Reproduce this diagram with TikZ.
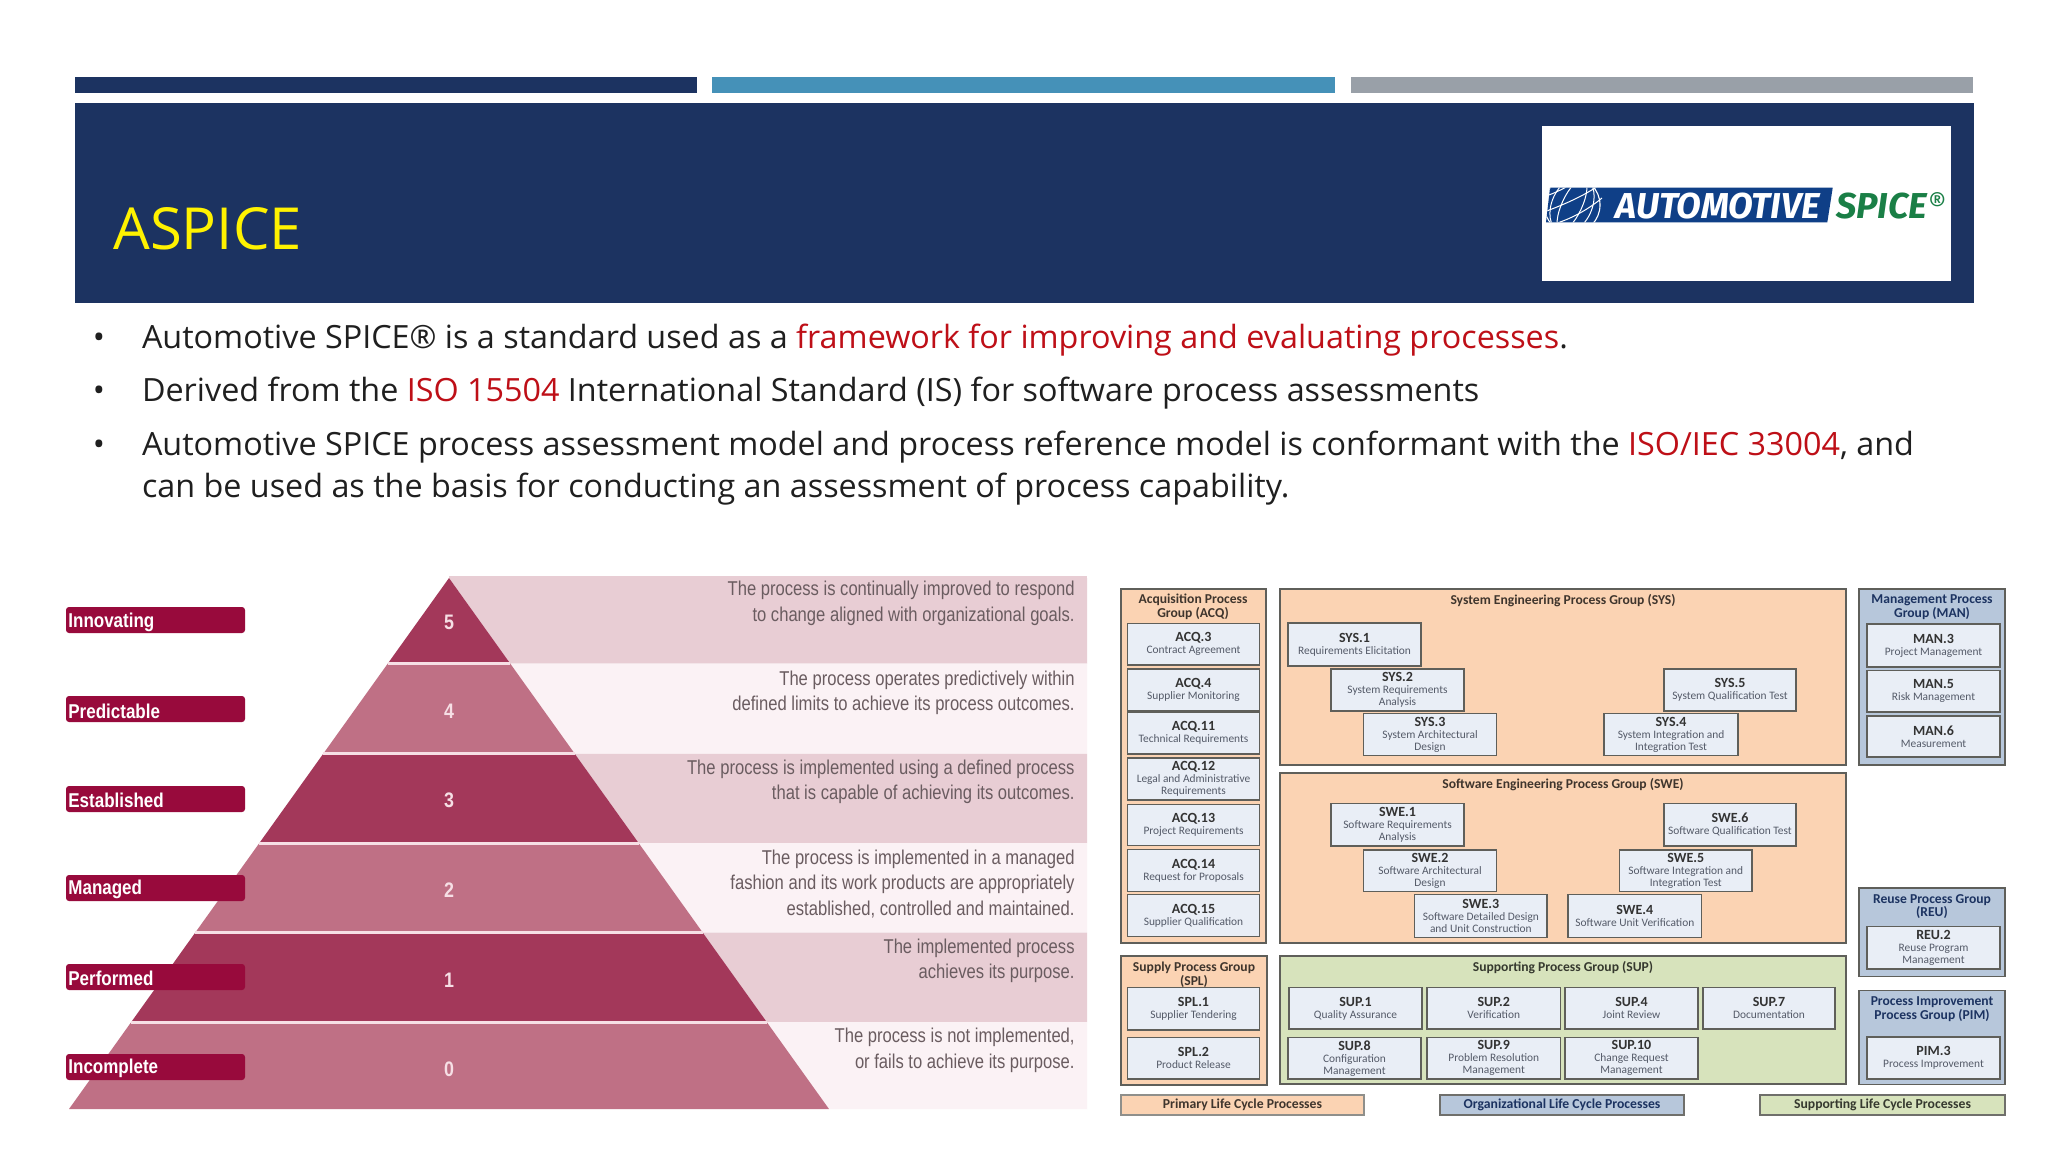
\documentclass[tikz,border=0pt]{standalone}
\usepackage{fontspec}
\setmainfont{Open Sans}
\newfontfamily\bodyf[FakeStretch=1.01]{Open Sans}
\newfontfamily\condf[FakeStretch=0.83]{Liberation Sans}
\newfontfamily\condbf[FakeStretch=0.85]{Liberation Sans}
\newfontfamily\carl{Carlito}
\newfontfamily\logof{Fira Sans}
\definecolor{navy}{HTML}{1C3361}
\definecolor{barblue}{HTML}{4591B8}
\definecolor{bargrey}{HTML}{99A0A8}
\definecolor{redtxt}{HTML}{BE0F17}
\definecolor{pdark}{HTML}{A3385A}
\definecolor{plight}{HTML}{BF7085}
\definecolor{bandA}{HTML}{E8CDD4}
\definecolor{bandB}{HTML}{FBF2F5}
\definecolor{gapc}{HTML}{F6DFE5}
\definecolor{labelc}{HTML}{980A3C}
\definecolor{desc}{HTML}{6A5C60}
\definecolor{orangeg}{HTML}{FBD3B3}
\definecolor{greeng}{HTML}{D7E3BC}
\definecolor{blueg}{HTML}{B7C7DB}
\definecolor{boxf}{HTML}{E9EEF6}
\definecolor{edgec}{HTML}{5F5F5A}
\definecolor{subc}{HTML}{545A68}
\definecolor{logoblue}{HTML}{0F3F87}
\definecolor{logogreen}{HTML}{1A7F46}
\tikzset{
  x=0.5pt,y=-0.5pt,
  bodytext/.style={anchor=base west,inner sep=0pt,outer sep=0pt,font=\bodyf\fontsize{16}{19}\selectfont,text=black!88},
  bulletmark/.style={anchor=base,inner sep=0pt,font=\bodyf\fontsize{16}{19}\selectfont,text=black!88},
  levelbox/.style={fill=labelc,rounded corners=1.5pt,inner sep=0pt,draw=none},
  leveltext/.style={anchor=west,inner sep=0pt,text=white,font=\condbf\bfseries\fontsize{10}{10}\selectfont},
  digit/.style={inner sep=0pt,text=gapc,font=\condbf\bfseries\fontsize{10.5}{10.5}\selectfont},
  desctext/.style={anchor=east,inner sep=0pt,text=desc,font=\condf\fontsize{10}{10}\selectfont},
  grpbox/.style={draw=edgec,line width=0.7pt,inner sep=0pt,outer sep=0pt},
  procbox/.style={draw=edgec,line width=0.75pt,fill=boxf,inner sep=0pt,outer sep=0pt,align=center,text=subc,font=\carl\fontsize{5.7}{6}\selectfont},
  grptitle/.style={inner sep=0pt,align=center,font=\carl\bfseries\fontsize{6.8}{6.9}\selectfont},
  legendtext/.style={inner sep=0pt,font=\carl\bfseries\fontsize{6.85}{7}\selectfont},
}
\newcommand{\nm}[1]{{\bfseries\fontsize{7}{6}\selectfont\color{black!80}#1}}
% name x1 y1 x2 y2 style text
\newcommand{\rectnode}[7]{%
  \pgfmathsetmacro\rw{(#4-#2)*0.5}\pgfmathsetmacro\rh{(#5-#3)*0.5}%
  \pgfmathsetmacro\rx{(#2+#4)/2}\pgfmathsetmacro\ry{(#3+#5)/2}%
  \node[#6,minimum width=\rw pt,minimum height=\rh pt] (#1) at (\rx,\ry) {#7};}
\newcommand{\pbox}[7]{\rectnode{#1}{#2}{#3}{#4}{#5}{procbox}{\nm{#6}\\#7}}
% ytop ybot layer colour band colour
\newcommand{\layer}[4]{%
  \pgfmathsetmacro\ta{0.7156*(#1-578)}\pgfmathsetmacro\tb{0.7156*(#2-578)}%
  \fill[#4] (449+\ta,#1) -- (1087,#1) -- (1087,#2) -- (449+\tb,#2) -- cycle;
  \fill[#3] (449-\ta,#1) -- (449+\ta,#1) -- (449+\tb,#2) -- (449-\tb,#2) -- cycle;}
\newcommand{\gapline}[1]{%
  \pgfmathsetmacro\ta{0.7156*(#1-578)}%
  \draw[gapc,line width=1.5pt] (449-\ta,#1) -- (449+\ta,#1);}
\begin{document}
\begin{tikzpicture}
\useasboundingbox (0,0) rectangle (2048,1152);
\fill[white] (0,0) rectangle (2048,1152);
% top bars
\fill[navy] (74.5,77) rectangle (697,93);
\fill[barblue] (712,77) rectangle (1335,93);
\fill[bargrey] (1351,77) rectangle (1973,93);
% header
\fill[navy] (74.5,103) rectangle (1973.5,303);
\node[anchor=base west,inner sep=0pt,text=yellow,font=\fontsize{29}{30}\selectfont] (title) at (113,249) {ASPICE};
% logo
\fill[white] (1542,126) rectangle (1951,281);
\fill[logoblue] (1550,187.7) -- (1832.7,187.7) -- (1827.3,222.3) -- (1546,222.3) -- cycle;
\begin{scope}
\clip (1550,187.7) -- (1832.7,187.7) -- (1827.3,222.3) -- (1546,222.3) -- cycle;
\draw[white,line width=0.55pt] (1572,205) circle[radius=28];
\draw[white,line width=0.5pt] (1572,205) ellipse[x radius=10,y radius=28,rotate=-25];
\draw[white,line width=0.5pt] (1572,205) ellipse[x radius=20,y radius=30,rotate=-25];
\draw[white,line width=0.5pt] (1544,212) .. controls (1560,206) and (1580,198) .. (1598,186);
\draw[white,line width=0.5pt] (1546,226) .. controls (1565,222) and (1585,212) .. (1602,198);
\draw[white,line width=0.5pt] (1546,196) .. controls (1555,193) and (1565,188) .. (1575,182);
\end{scope}
\node[anchor=base west,inner sep=0pt,text=white,font=\logof\bfseries\itshape\fontsize{18}{18}\selectfont] (auto) at (1615,218.5) {AUTOMOTIVE};
\node[anchor=base west,inner sep=0pt,text=logogreen,font=\logof\bfseries\itshape\fontsize{18}{18}\selectfont] (spice) at (1836,218.5) {SPICE};
\node[anchor=base west,inner sep=0pt,text=logogreen,font=\logof\fontsize{14}{14}\selectfont] (reg) at (1928,213) {®};
% bullets
\node[bulletmark] (b1) at (99,348) {•};
\node[bulletmark] (b2) at (99,401) {•};
\node[bulletmark] (b3) at (99,455) {•};
\node[bodytext] (l1) at (142,348) {Automotive SPICE® is a standard used as a \textcolor{redtxt}{framework for improving and evaluating processes}.};
\node[bodytext] (l2) at (142,401) {Derived from the \textcolor{redtxt}{ISO 15504} International Standard (IS) for software process assessments};
\node[bodytext] (l3) at (142,455) {Automotive SPICE process assessment model and process reference model is conformant with the \textcolor{redtxt}{ISO/IEC 33004}, and};
\node[bodytext] (l4) at (142,497) {can be used as the basis for conducting an assessment of process capability.};
% pyramid
\layer{578}{663.6}{pdark}{bandA}
\layer{663.6}{753.8}{plight}{bandB}
\layer{753.8}{843}{pdark}{bandA}
\layer{843}{932.7}{plight}{bandB}
\layer{932.7}{1022}{pdark}{bandA}
\layer{1022}{1109}{plight}{bandB}
\fill[bandA] (449,576) -- (1087,576) -- (1087,578) -- (449,578) -- cycle;
\gapline{663.6}\gapline{753.8}\gapline{843}\gapline{932.7}\gapline{1022}
\node[digit] (n5) at (449,622) {5};
\node[digit] (n4) at (449,711) {4};
\node[digit] (n3) at (449,800) {3};
\node[digit] (n2) at (449,890) {2};
\node[digit] (n1) at (449,980) {1};
\node[digit] (n0) at (449,1069) {0};
\rectnode{lv5}{66}{607}{245}{633}{levelbox}{}
\rectnode{lv4}{66}{696}{245}{722}{levelbox}{}
\rectnode{lv3}{66}{786}{245}{812}{levelbox}{}
\rectnode{lv2}{66}{875}{245}{901}{levelbox}{}
\rectnode{lv1}{66}{964}{245}{990}{levelbox}{}
\rectnode{lv0}{66}{1054}{245}{1080}{levelbox}{}
\node[leveltext] (tx5) at (68,622) {Innovating};
\node[leveltext] (tx4) at (68,711) {Predictable};
\node[leveltext] (tx3) at (68,800) {Established};
\node[leveltext] (tx2) at (68,889) {Managed};
\node[leveltext] (tx1) at (68,978) {Performed};
\node[leveltext] (tx0) at (68,1068) {Incomplete};
\node[desctext] (d5a) at (1075,590) {The process is continually improved to respond};
\node[desctext] (d5b) at (1075,616) {to change aligned with organizational goals.};
\node[desctext] (d4a) at (1075,680) {The process operates predictively within};
\node[desctext] (d4b) at (1075,705) {defined limits to achieve its process outcomes.};
\node[desctext] (d3a) at (1075,769) {The process is implemented using a defined process};
\node[desctext] (d3b) at (1075,794) {that is capable of achieving its outcomes.};
\node[desctext] (d2a) at (1075,859) {The process is implemented in a managed};
\node[desctext] (d2b) at (1075,884) {fashion and its work products are appropriately};
\node[desctext] (d2c) at (1075,910) {established, controlled and maintained.};
\node[desctext] (d1a) at (1075,948) {The implemented process};
\node[desctext] (d1b) at (1075,973) {achieves its purpose.};
\node[desctext] (d0a) at (1075,1037) {The process is not implemented,};
\node[desctext] (d0b) at (1075,1063) {or fails to achieve its purpose.};
% process groups
\rectnode{acq}{1121}{589}{1266}{943}{grpbox,fill=orangeg}{}
\rectnode{spl}{1121}{956}{1267}{1085}{grpbox,fill=orangeg}{}
\rectnode{sys}{1280}{589}{1846}{765}{grpbox,fill=orangeg}{}
\rectnode{swe}{1280}{773}{1846}{943}{grpbox,fill=orangeg}{}
\rectnode{sup}{1280}{956}{1846}{1084}{grpbox,fill=greeng}{}
\rectnode{man}{1859}{589}{2005}{765}{grpbox,fill=blueg}{}
\rectnode{reu}{1859}{888}{2005}{976.5}{grpbox,fill=blueg}{}
\rectnode{pim}{1859}{990.5}{2005}{1084.6}{grpbox,fill=blueg}{}
\node[grptitle,text=orangeg!25!black] (tacq) at (1193,607) {Acquisition Process\\Group (ACQ)};
\node[grptitle,text=orangeg!25!black] (tspl) at (1194,975) {Supply Process Group\\(SPL)};
\node[grptitle,text=orangeg!25!black] (tsys) at (1563,600.5) {System Engineering Process Group (SYS)};
\node[grptitle,text=orangeg!25!black] (tswe) at (1563,784.5) {Software Engineering Process Group (SWE)};
\node[grptitle,text=greeng!25!black] (tsup) at (1563,967.5) {Supporting Process Group (SUP)};
\node[grptitle,text=navy] (tman) at (1932,607) {Management Process\\Group (MAN)};
\node[grptitle,text=navy] (treu) at (1932,906.5) {Reuse Process Group\\(REU)};
\node[grptitle,text=navy] (tpim) at (1932,1009.5) {Process Improvement\\Process Group (PIM)};
% ACQ
\pbox{acq3}{1127.5}{623.5}{1259.5}{665}{ACQ.3}{Contract Agreement}
\pbox{acq4}{1127.5}{669}{1259.5}{711}{ACQ.4}{Supplier Monitoring}
\pbox{acq11}{1127.5}{712.6}{1259.5}{754}{ACQ.11}{Technical Requirements}
\pbox{acq12}{1127.5}{758}{1259.5}{800}{ACQ.12}{Legal and Administrative\\Requirements}
\pbox{acq13}{1127.5}{804.6}{1259.5}{845.6}{ACQ.13}{Project Requirements}
\pbox{acq14}{1127.5}{849.5}{1259.5}{891.6}{ACQ.14}{Request for Proposals}
\pbox{acq15}{1127.5}{894.7}{1259.5}{936.5}{ACQ.15}{Supplier Qualification}
\pbox{spl1}{1127.5}{987.7}{1259.5}{1030}{SPL.1}{Supplier Tendering}
\pbox{spl2}{1127.5}{1037.5}{1259.5}{1079}{SPL.2}{Product Release}
% SYS
\pbox{sys1}{1288}{623}{1421}{666}{SYS.1}{Requirements Elicitation}
\pbox{sys2}{1331}{669}{1464}{711}{SYS.2}{System Requirements\\Analysis}
\pbox{sys3}{1363.5}{713.7}{1496.5}{755.7}{SYS.3}{System Architectural\\Design}
\pbox{sys5}{1664}{669}{1796}{711}{SYS.5}{System Qualification Test}
\pbox{sys4}{1604}{713.7}{1738}{755.7}{SYS.4}{System Integration and\\Integration Test}
% SWE
\pbox{swe1}{1331}{803.7}{1464}{846}{SWE.1}{Software Requirements\\Analysis}
\pbox{swe2}{1363.5}{850}{1496.5}{891.7}{SWE.2}{Software Architectural\\Design}
\pbox{swe3}{1414.7}{894.7}{1547}{937.3}{SWE.3}{Software Detailed Design\\and Unit Construction}
\pbox{swe4}{1568}{894.7}{1701.7}{937.3}{SWE.4}{Software Unit Verification}
\pbox{swe5}{1619.4}{850}{1752}{891.7}{SWE.5}{Software Integration and\\Integration Test}
\pbox{swe6}{1664}{803.7}{1796}{846}{SWE.6}{Software Qualification Test}
% SUP
\pbox{sup1}{1289}{987.7}{1422}{1029}{SUP.1}{Quality Assurance}
\pbox{sup2}{1427}{987.7}{1560.5}{1029}{SUP.2}{Verification}
\pbox{sup4}{1565}{987.7}{1698}{1029}{SUP.4}{Joint Review}
\pbox{sup7}{1703}{987.7}{1835}{1029}{SUP.7}{Documentation}
\pbox{sup8}{1288}{1037.7}{1421}{1079}{SUP.8}{Configuration\\Management}
\pbox{sup9}{1427}{1037.7}{1560.5}{1079}{SUP.9}{Problem Resolution\\Management}
\pbox{sup10}{1565}{1037.7}{1698}{1079}{SUP.10}{Change Request\\Management}
% MAN etc
\pbox{man3}{1867}{624}{2000}{667}{MAN.3}{Project Management}
\pbox{man5}{1867}{670.5}{2000}{712}{MAN.5}{Risk Management}
\pbox{man6}{1867}{716}{2000}{757}{MAN.6}{Measurement}
\pbox{reu2}{1867}{926.7}{2000}{969}{REU.2}{Reuse Program\\Management}
\pbox{pim3}{1867}{1037}{2000}{1079}{PIM.3}{Process Improvement}
% legends
\rectnode{lgp}{1121}{1095}{1364}{1115}{draw=edgec!70,line width=0.7pt,fill=orangeg,legendtext,text=orangeg!25!black}{Primary Life Cycle Processes}
\rectnode{lgo}{1440}{1095}{1684}{1115}{draw=edgec!90,line width=0.7pt,fill=blueg,legendtext,text=navy}{Organizational Life Cycle Processes}
\rectnode{lgs}{1760}{1095}{2005}{1115}{draw=edgec!90,line width=0.7pt,fill=greeng,legendtext,text=greeng!25!black}{Supporting Life Cycle Processes}
\end{tikzpicture}
\end{document}
